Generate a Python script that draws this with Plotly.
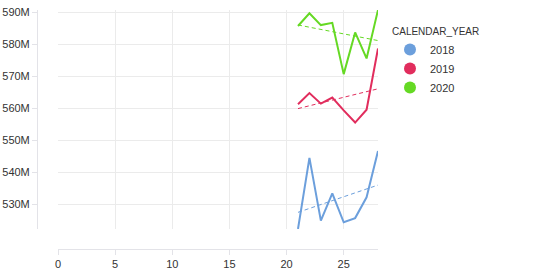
import numpy as np
import plotly.graph_objects as go

days = [21, 22, 23, 24, 25, 26, 27, 28]
years = ["2018", "2019", "2020"]
values = {
    "2018": [522.4, 544.6, 525.0, 533.5, 524.5, 525.8, 532.3, 546.7],
    "2019": [561.3, 564.8, 561.5, 563.4, 559.4, 555.6, 559.6, 578.7],
    "2020": [585.7, 589.7, 586.0, 586.7, 570.7, 583.7, 575.6, 590.7],
}
colors = {"2018": "#6c9fdc", "2019": "#e12d5d", "2020": "#65d924"}
x_ticks = [0, 5, 10, 15, 20, 25]
y_ticks = [530, 540, 550, 560, 570, 580, 590]

W, H = 547, 272
fig = go.Figure()
allv = []
for yr in years:
    v = np.array(values[yr]) * 1e6
    allv += list(v)
    fig.add_trace(go.Scatter(x=days, y=v, mode="lines", line=dict(color=colors[yr], width=2),
                             showlegend=False, hoverinfo="skip"))
    k, b = np.polyfit(days, v, 1)
    xd = np.array([days[0], days[-1]])
    fig.add_trace(go.Scatter(x=xd, y=k * xd + b, mode="lines",
                             line=dict(color=colors[yr], width=1, dash="4px,3px"),
                             showlegend=False, hoverinfo="skip"))
for yr in years:
    fig.add_trace(go.Scatter(x=[None], y=[None], mode="markers", name=yr,
                             marker=dict(color=colors[yr], size=12, symbol="circle")))

xr = [0, 28]
yr_ = [min(allv), max(allv)]
fig.add_trace(go.Scatter(x=xr, y=yr_, xaxis="x2", yaxis="y2", mode="markers",
                         marker=dict(opacity=0), showlegend=False, hoverinfo="skip"))

ml, mr, mt, mb = 37, W - 378, 10, H - 249
pw = W - ml - mr
ph = H - mt - mb
xdom = [(58 - 37) / pw, 1]
ydom = [(249 - 229) / ph, 1]
FONT = "Liberation Sans, Arial, sans-serif"
tickfont = dict(family=FONT, size=11, color="#333")
fig.update_layout(
    width=W, height=H,
    margin=dict(l=ml, r=mr, t=mt, b=mb, autoexpand=False),
    paper_bgcolor="white", plot_bgcolor="white",
    xaxis=dict(domain=xdom, range=xr, anchor="y", showgrid=True, gridcolor="#ebebeb",
               tickvals=x_ticks, showticklabels=False, showline=False, zeroline=False,
               automargin=False),
    yaxis=dict(domain=ydom, range=yr_, anchor="x", showgrid=True, gridcolor="#ebebeb",
               tickvals=[t * 1e6 for t in y_ticks], showticklabels=False, showline=False,
               zeroline=False, automargin=False),
    xaxis2=dict(domain=xdom, range=xr, overlaying="x", anchor="free", position=0,
                showgrid=False, zeroline=False, showline=True, linecolor="#e3e3e8",
                ticks="outside", ticklen=5, tickcolor="#e3e3e8", tickvals=x_ticks,
                tickfont=tickfont, automargin=False),
    yaxis2=dict(domain=ydom, range=yr_, overlaying="y", anchor="free", position=0,
                showgrid=False, zeroline=False, showline=True, linecolor="#e3e3e8",
                ticks="outside", ticklen=5, tickcolor="#e3e3e8",
                tickvals=[t * 1e6 for t in y_ticks],
                ticktext=[f"{t}M" for t in y_ticks], tickfont=tickfont, automargin=False),
    legend=dict(x=(390 - ml) / pw, y=1 - (22 - mt) / ph, xanchor="left", yanchor="top",
                title=dict(text="CALENDAR_YEAR", font=dict(size=10, color="#333", family=FONT)),
                font=dict(size=11, color="#333", family=FONT),
                tracegroupgap=0, itemwidth=30),
    showlegend=True,
)
fig.write_html("out.html")
